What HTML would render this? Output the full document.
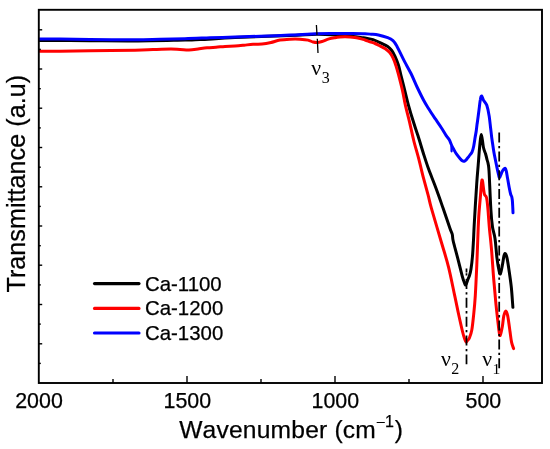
<!DOCTYPE html>
<html><head><meta charset="utf-8"><title>FTIR</title>
<style>
html,body{margin:0;padding:0;background:#fff;}
svg{display:block}
text{font-family:"Liberation Sans",Arial,sans-serif;fill:#000;stroke:#000;stroke-width:0.25px}
.ser{font-family:"Liberation Serif","DejaVu Serif",serif;stroke:none}
</style></head><body>
<svg width="550" height="449" viewBox="0 0 550 449">
<rect width="550" height="449" fill="#fff"/>
<g fill="none" stroke-linecap="round" stroke-linejoin="round" stroke-width="3">
<path d="M39.5,40.5C47.9,40.5 74.1,40.6 90.0,40.7C105.9,40.8 119.2,41.0 135.0,40.9C150.8,40.8 174.2,40.2 185.0,40.0C195.8,39.8 191.7,40.0 200.0,39.6C208.3,39.2 220.0,38.3 235.0,37.6C250.0,36.9 276.3,36.0 290.0,35.5C303.7,35.0 309.5,34.4 317.0,34.3C324.5,34.2 329.0,34.6 335.0,35.0C341.0,35.4 348.5,36.0 353.0,36.5C357.5,37.0 360.0,37.5 362.0,37.7C364.0,37.9 363.2,37.6 365.0,37.9C366.8,38.2 370.3,38.8 373.0,39.7C375.7,40.6 378.6,42.0 381.0,43.1C383.4,44.2 385.9,45.2 387.7,46.4C389.5,47.6 390.5,48.7 391.7,50.4C392.9,52.1 393.9,54.0 395.0,56.4C396.1,58.8 397.4,61.9 398.4,65.0C399.4,68.1 399.8,70.7 400.9,75.0C402.0,79.3 403.5,85.4 404.8,90.6C406.1,95.8 407.3,101.0 408.7,106.2C410.1,111.4 411.8,116.9 413.4,121.8C414.9,126.7 416.2,130.2 418.0,135.8C419.8,141.4 422.3,150.0 424.1,155.6C425.9,161.2 427.1,164.9 428.8,169.6C430.5,174.3 432.6,179.3 434.3,183.7C436.0,188.1 437.4,192.0 438.9,196.2C440.4,200.3 441.3,203.2 443.2,208.6C445.1,214.0 448.5,224.3 450.0,228.6C451.5,232.9 451.8,232.4 452.3,234.5C452.8,236.6 452.3,237.1 453.2,241.0C454.1,244.9 456.2,252.3 457.7,258.2C459.2,264.1 461.2,272.3 462.3,276.4C463.4,280.4 463.7,281.1 464.3,282.5C464.9,283.9 465.2,285.4 465.8,285.0C466.4,284.6 467.1,281.6 467.7,280.0C468.3,278.4 468.9,277.3 469.5,275.5C470.1,273.7 470.5,272.2 471.0,269.0C471.5,265.8 472.1,260.8 472.5,256.0C472.9,251.2 473.2,245.2 473.5,240.0C473.8,234.8 473.7,234.3 474.2,225.0C474.7,215.7 476.0,194.0 476.7,184.0C477.4,174.0 477.7,171.1 478.2,165.0C478.7,158.9 479.1,152.4 479.6,147.3C480.1,142.2 480.8,134.5 481.4,134.5C482.0,134.5 482.7,144.1 483.4,147.3C484.1,150.6 485.0,152.0 485.6,154.0C486.2,156.0 486.6,157.8 487.0,159.5C487.4,161.2 487.8,161.6 488.2,164.0C488.6,166.4 488.8,166.3 489.2,174.0C489.6,181.7 490.3,201.2 490.9,210.0C491.4,218.8 491.8,222.3 492.5,227.0C493.2,231.7 494.2,233.2 495.0,238.4C495.8,243.6 496.3,253.0 497.0,258.4C497.7,263.8 498.4,267.9 499.0,270.5C499.6,273.1 499.8,274.7 500.4,273.8C501.0,272.9 501.8,268.0 502.4,265.0C503.0,262.0 503.5,257.6 504.0,255.7C504.5,253.8 504.9,253.2 505.4,253.7C505.9,254.1 506.5,255.4 507.1,258.4C507.7,261.4 508.5,266.6 509.2,271.5C509.9,276.4 510.8,282.0 511.4,288.0C512.0,294.0 512.6,304.1 512.9,307.3" stroke="#000"/>
<path d="M39.5,51.3C42.9,51.3 51.6,51.3 60.0,51.2C68.4,51.1 77.5,51.0 90.0,50.8C102.5,50.6 124.5,50.4 135.0,50.2C145.5,50.0 147.0,49.8 153.0,49.6C159.0,49.4 166.5,49.1 171.0,49.1C175.5,49.1 177.0,49.4 180.0,49.5C183.0,49.6 186.0,50.1 189.0,50.0C192.0,49.9 195.0,49.4 198.0,49.0C201.0,48.6 204.0,48.1 207.0,47.8C210.0,47.5 213.0,47.4 216.0,47.2C219.0,47.0 221.8,46.6 225.0,46.4C228.2,46.2 231.8,46.2 235.0,46.0C238.2,45.8 241.0,45.5 244.0,45.2C247.0,44.9 250.0,44.5 253.0,44.3C256.0,44.1 259.0,44.4 262.0,44.1C265.0,43.8 268.0,43.2 271.0,42.5C274.0,41.8 276.8,40.6 280.0,40.1C283.2,39.6 286.7,39.4 290.0,39.2C293.3,39.1 297.0,39.1 300.0,39.2C303.0,39.4 305.8,39.6 308.0,40.1C310.2,40.6 311.5,41.6 313.0,42.0C314.5,42.4 315.5,42.7 317.0,42.6C318.5,42.5 320.0,42.1 322.0,41.5C324.0,40.9 326.8,39.5 329.0,38.9C331.2,38.3 333.2,38.0 335.0,37.7C336.8,37.4 338.3,37.2 340.0,37.0C341.7,36.8 343.3,36.7 345.0,36.7C346.7,36.7 348.3,36.8 350.0,36.9C351.7,37.0 353.3,37.2 355.0,37.5C356.7,37.8 358.3,38.1 360.0,38.5C361.7,38.9 363.3,39.5 365.0,40.0C366.7,40.5 368.3,41.2 370.0,41.8C371.7,42.4 373.3,42.8 375.0,43.5C376.7,44.2 378.3,45.1 380.0,46.0C381.7,46.9 383.4,47.5 385.0,48.6C386.6,49.7 388.4,50.9 389.7,52.4C391.0,53.9 392.0,55.7 393.0,57.8C394.0,59.9 394.8,62.1 395.7,65.0C396.6,67.9 397.5,70.7 398.6,75.0C399.7,79.3 401.3,85.4 402.5,90.6C403.7,95.8 404.4,101.0 405.6,106.2C406.8,111.4 408.2,116.2 409.5,121.8C410.8,127.4 412.1,133.8 413.6,140.0C415.1,146.2 417.1,152.5 418.7,158.7C420.3,164.9 421.8,171.4 423.3,177.4C424.9,183.4 426.6,189.4 428.0,194.6C429.4,199.8 429.2,200.5 431.5,208.6C433.8,216.7 438.8,233.2 441.6,243.0C444.5,252.8 446.4,258.5 448.6,267.3C450.8,276.1 453.0,287.8 454.7,295.6C456.4,303.4 457.3,308.3 458.6,314.3C459.9,320.3 461.5,327.4 462.5,331.5C463.5,335.6 464.0,337.1 464.6,338.8C465.2,340.6 465.5,341.8 466.0,342.0C466.5,342.2 467.0,341.0 467.6,340.3C468.2,339.6 468.8,339.4 469.5,337.7C470.2,336.0 471.1,333.9 471.8,330.0C472.5,326.1 473.1,320.0 473.7,314.3C474.3,308.6 474.8,303.8 475.3,295.6C475.8,287.4 476.3,276.3 476.8,265.0C477.3,253.7 477.8,236.7 478.2,228.0C478.6,219.3 478.6,218.0 479.0,212.8C479.4,207.6 479.9,202.2 480.4,196.7C480.9,191.2 481.4,181.1 482.0,180.0C482.6,178.9 483.3,187.6 483.7,190.0C484.1,192.4 484.1,193.4 484.6,194.7C485.1,196.0 486.0,195.4 486.6,198.0C487.2,200.6 487.6,205.2 488.0,210.0C488.4,214.8 488.7,220.1 489.3,227.0C489.9,233.9 491.0,243.0 491.7,251.7C492.4,260.4 493.0,270.9 493.7,279.0C494.4,287.1 495.0,293.6 495.6,300.3C496.2,307.0 497.0,313.8 497.6,319.0C498.2,324.2 498.7,328.8 499.1,331.5C499.5,334.2 499.7,336.2 500.2,335.4C500.7,334.6 501.7,330.1 502.3,326.8C502.9,323.6 503.2,318.5 503.8,315.9C504.4,313.2 505.2,310.9 505.9,310.9C506.5,310.9 507.0,312.5 507.7,315.9C508.4,319.3 509.4,327.1 510.0,331.5C510.6,335.9 511.0,339.5 511.6,342.4C512.2,345.2 513.3,347.6 513.6,348.6" stroke="#f00"/>
<path d="M39.5,39.0C42.9,39.0 51.6,39.0 60.0,39.1C68.4,39.2 77.5,39.4 90.0,39.5C102.5,39.6 123.3,39.8 135.0,39.8C146.7,39.8 151.7,39.4 160.0,39.2C168.3,39.0 176.7,38.9 185.0,38.7C193.3,38.5 201.7,38.1 210.0,37.8C218.3,37.5 226.7,37.3 235.0,37.0C243.3,36.7 250.8,36.5 260.0,36.2C269.2,35.9 280.5,35.5 290.0,35.1C299.5,34.7 309.5,34.0 317.0,33.8C324.5,33.5 329.0,33.6 335.0,33.6C341.0,33.6 348.0,33.5 353.0,33.5C358.0,33.5 362.0,33.7 365.0,33.8C368.0,33.9 368.8,34.0 371.0,34.2C373.2,34.4 375.6,34.4 378.4,35.0C381.2,35.6 385.3,36.8 387.7,37.7C390.1,38.6 391.4,39.2 393.0,40.6C394.6,42.0 395.7,44.1 397.0,46.4C398.3,48.7 399.7,51.7 401.0,54.4C402.3,57.1 403.3,59.2 405.0,62.4C406.7,65.6 408.9,69.3 411.0,73.5C413.1,77.7 415.2,83.1 417.3,87.5C419.4,91.9 421.6,96.4 423.5,100.0C425.4,103.6 427.1,106.2 429.0,109.3C430.9,112.4 433.1,115.6 435.2,118.7C437.3,121.8 439.7,125.2 441.5,128.0C443.3,130.8 444.9,133.6 446.2,135.6C447.5,137.6 448.4,138.2 449.3,139.8C450.2,141.4 450.8,143.4 451.5,145.0C452.2,146.6 452.9,147.7 453.7,149.2C454.5,150.7 455.2,152.2 456.4,153.9C457.6,155.6 459.9,158.3 460.9,159.5C461.9,160.7 461.9,160.5 462.4,160.8C462.8,161.1 463.2,161.3 463.6,161.3C464.0,161.3 464.4,161.2 464.9,160.9C465.3,160.7 465.6,160.6 466.3,159.8C467.0,159.0 467.9,157.6 468.9,156.3C469.8,155.0 471.2,153.8 472.0,152.1C472.8,150.4 473.2,148.6 473.7,146.2C474.2,143.8 474.7,140.1 475.1,137.5C475.5,134.9 476.0,132.9 476.3,130.5C476.6,128.1 477.0,124.3 477.2,123.0C477.4,121.7 477.0,124.9 477.3,122.7C477.6,120.5 478.5,113.9 479.0,110.0C479.5,106.1 479.9,101.8 480.4,99.5C480.8,97.2 481.1,95.8 481.7,96.0C482.2,96.2 482.8,99.0 483.7,100.6C484.6,102.1 485.9,102.7 486.8,105.3C487.7,107.9 488.6,112.3 489.2,116.2C489.8,120.1 490.2,124.8 490.7,128.7C491.2,132.6 491.4,135.5 492.0,139.5C492.6,143.5 493.2,148.4 494.0,152.8C494.8,157.2 496.0,162.8 496.7,166.2C497.4,169.6 497.8,171.6 498.3,173.5C498.8,175.4 499.0,177.7 499.6,177.5C500.2,177.3 501.1,173.8 501.7,172.5C502.3,171.2 502.9,170.2 503.5,169.5C504.1,168.8 504.7,168.1 505.2,168.4C505.7,168.7 505.9,169.5 506.3,171.2C506.7,172.9 507.1,175.8 507.6,178.5C508.1,181.2 508.7,184.9 509.2,187.5C509.7,190.1 510.2,192.5 510.6,194.0C511.0,195.5 511.4,195.6 511.7,196.6C512.0,197.6 512.1,198.4 512.3,200.0C512.5,201.6 512.6,203.9 512.7,206.0C512.8,208.1 513.0,211.6 513.0,212.7" stroke="#00f"/>
<path d="M451.4,146.5L451.6,151.3" stroke="#00f" stroke-width="2.2"/>
</g>
<g fill="none" stroke="#000" stroke-width="1.75">
<path d="M316.4,25L317,34.9M317.3,38.7L318,53" stroke-width="1.3"/>
<path d="M466.5,268.4V270M466.5,272.5V270.0M466.5,273.3V275.6M466.5,278.9V288.9M466.5,292.2V294.5M466.5,297.8V307.8M466.5,311.1V313.4M466.5,316.7V326.7M466.5,330.0V332.3M466.5,335.6V345.6M466.5,348.9V351.2M466.5,354.5V364.3"/>
<path d="M499.2,132.6V142.6M499.2,145.9V148.2M499.2,151.4V161.4M499.2,164.7V167.0M499.2,170.2V180.2M499.2,183.5V185.8M499.2,189.0V199.0M499.2,202.3V204.6M499.2,207.8V217.8M499.2,221.1V223.4M499.2,226.6V236.6M499.2,239.9V242.2M499.2,245.4V255.4M499.2,258.7V261.0M499.2,264.2V274.2M499.2,277.5V279.8M499.2,283.0V293.0M499.2,296.3V298.6M499.2,301.8V311.8M499.2,315.1V317.4M499.2,320.6V330.6M499.2,333.9V336.2M499.2,339.4V349.4M499.2,352.7V355.0M499.2,358.2V368.2"/>
</g>
<rect x="38.8" y="9.8" width="503.2" height="373.2" fill="none" stroke="#000" stroke-width="1.9"/>
<g stroke="#000" stroke-width="1.4"><line x1="38.8" y1="363.4" x2="40.8" y2="363.4"/><line x1="38.8" y1="343.8" x2="42.199999999999996" y2="343.8"/><line x1="38.8" y1="324.1" x2="40.8" y2="324.1"/><line x1="38.8" y1="304.5" x2="42.199999999999996" y2="304.5"/><line x1="38.8" y1="284.9" x2="40.8" y2="284.9"/><line x1="38.8" y1="265.2" x2="42.199999999999996" y2="265.2"/><line x1="38.8" y1="245.7" x2="40.8" y2="245.7"/><line x1="38.8" y1="226.0" x2="42.199999999999996" y2="226.0"/><line x1="38.8" y1="206.4" x2="40.8" y2="206.4"/><line x1="38.8" y1="186.8" x2="42.199999999999996" y2="186.8"/><line x1="38.8" y1="167.2" x2="40.8" y2="167.2"/><line x1="38.8" y1="147.5" x2="42.199999999999996" y2="147.5"/><line x1="38.8" y1="127.9" x2="40.8" y2="127.9"/><line x1="38.8" y1="108.2" x2="42.199999999999996" y2="108.2"/><line x1="38.8" y1="88.7" x2="40.8" y2="88.7"/><line x1="38.8" y1="69.0" x2="42.199999999999996" y2="69.0"/><line x1="38.8" y1="49.4" x2="40.8" y2="49.4"/><line x1="38.8" y1="29.8" x2="42.199999999999996" y2="29.8"/><line x1="113" y1="383" x2="113" y2="379"/><line x1="187" y1="383" x2="187" y2="376"/><line x1="261" y1="383" x2="261" y2="379"/><line x1="335" y1="383" x2="335" y2="376"/><line x1="409" y1="383" x2="409" y2="379"/><line x1="483" y1="383" x2="483" y2="376"/></g>
<g font-size="21.4" text-anchor="middle">
<text x="39" y="408.4">2000</text><text x="187.3" y="408.4">1500</text><text x="335.3" y="408.4">1000</text><text x="483.4" y="408.4">500</text>
</g>
<text x="179.2" y="438" font-size="24.6" style="font-kerning:none;letter-spacing:0.2px">Wavenumber (cm<tspan font-size="14.5" dy="-11.6" dx="0.6" style="stroke-width:0.1px">–</tspan><tspan font-size="16" dy="0.4">1</tspan><tspan dy="11.2" dx="0.7">)</tspan></text>
<text transform="translate(25.1,292.5) rotate(-90)" font-size="25.1" style="letter-spacing:0.05px">Transmittance (a.u)</text>
<g stroke-width="3.1" stroke-linecap="round">
<line x1="94.5" y1="283.6" x2="139" y2="283.6" stroke="#000"/>
<line x1="94.5" y1="308.4" x2="139" y2="308.4" stroke="#f00"/>
<line x1="94.5" y1="333" x2="139" y2="333" stroke="#00f"/>
</g>
<g font-size="20.4">
<text x="145" y="290.7">Ca-1100</text><text x="145" y="315.4">Ca-1200</text><text x="145" y="340">Ca-1300</text>
</g>
<g class="ser" font-size="21.8">
<text class="ser" x="311.2" y="74.9">ν<tspan font-size="16" dx="0.6" dy="7.6">3</tspan></text>
<text class="ser" x="441" y="365.9">ν<tspan font-size="16" dx="0.4" dy="7.6">2</tspan></text>
<text class="ser" x="482.2" y="365.9">ν<tspan font-size="15.5" dx="0.5" dy="7.6">1</tspan></text>
</g>
</svg>
</body></html>
